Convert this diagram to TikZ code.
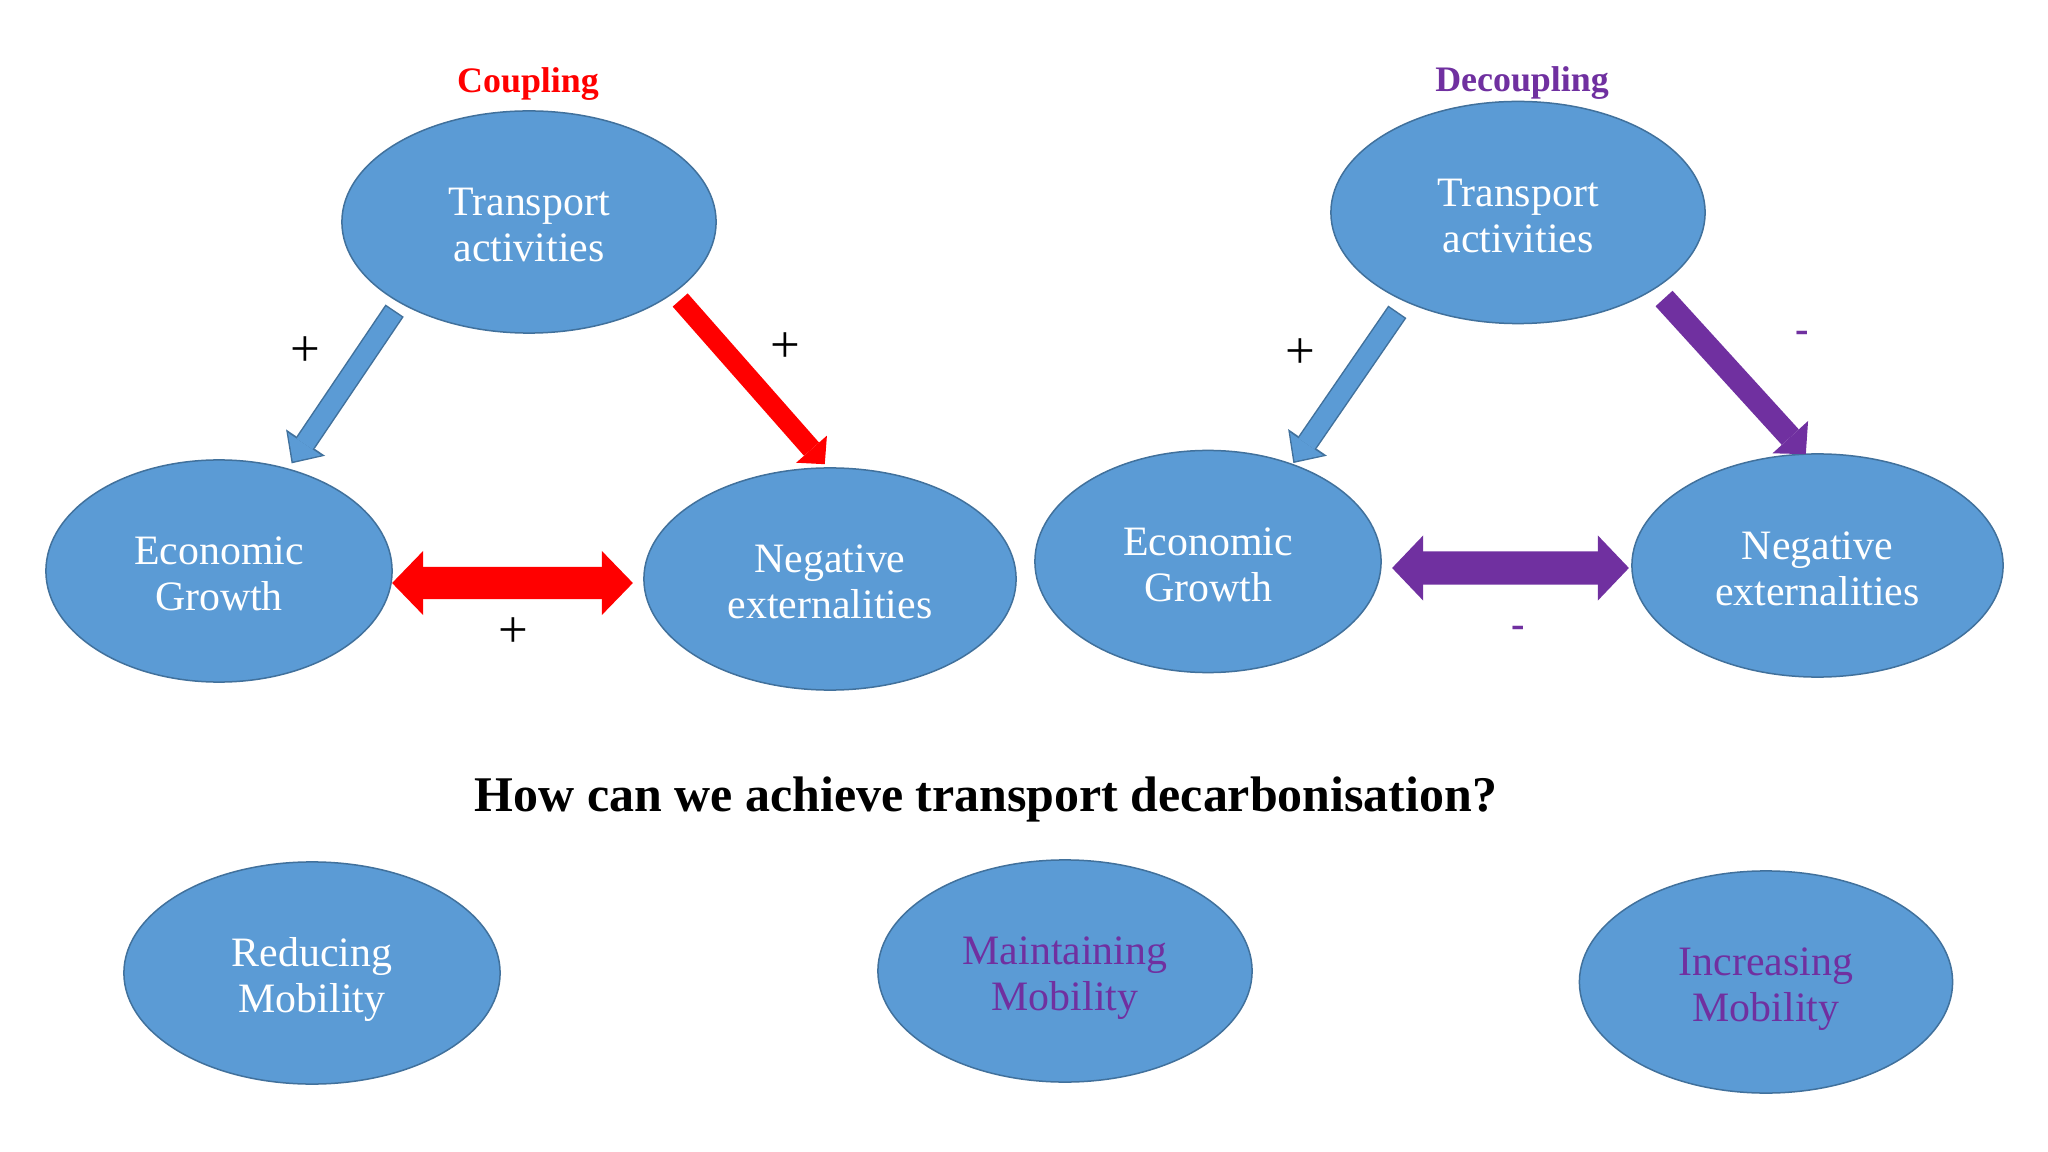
\documentclass[tikz,border=0pt]{standalone}
\usepackage{fontspec}
\setmainfont{Liberation Serif}
\usetikzlibrary{arrows.meta,shapes.geometric}
\definecolor{ellfill}{HTML}{5B9BD5}
\definecolor{ellline}{HTML}{41719C}
\definecolor{cpred}{HTML}{FF0000}
\definecolor{dcpurple}{HTML}{7030A0}
\begin{document}
\begin{tikzpicture}[x=0.01cm,y=-0.01cm,
  bubble/.style={ellipse, draw=ellline, fill=ellfill, line width=0.015cm,
    minimum width=3.74cm, minimum height=2.22cm, inner sep=0pt, outer sep=0pt,
    text height=0.795cm, text depth=0pt,
    text=white, align=center, font=\fontsize{11.9}{13.1}\selectfont},
  heading/.style={font=\fontsize{10.2}{12}\selectfont\bfseries, anchor=base},
  sign/.style={font=\fontsize{15}{16}\selectfont, text=black},
  minus/.style={font=\fontsize{11.5}{14}\selectfont\bfseries, text=dcpurple},
  bluearrowout/.style={draw=ellline, line width=0.22cm,
    -{Triangle[length=0.25cm,width=0.47cm,line width=0pt]}},
  bluearrowin/.style={draw=ellfill, line width=0.19cm,
    -{Triangle[length=0.21cm,width=0.40cm,line width=0pt]}},
  redarrow/.style={draw=cpred, line width=0.20cm,
    -{Triangle[length=0.20cm,width=0.41cm,line width=0pt]}},
  purplearrow/.style={draw=dcpurple, line width=0.23cm,
    -{Triangle[length=0.23cm,width=0.48cm,line width=0pt]}},
  redbar/.style={draw=cpred, line width=0.32cm,
    {Triangle[length=0.31cm,width=0.64cm,line width=0pt]}-{Triangle[length=0.31cm,width=0.64cm,line width=0pt]}},
  purplebar/.style={draw=dcpurple, line width=0.33cm,
    {Triangle[length=0.31cm,width=0.65cm,line width=0pt]}-{Triangle[length=0.31cm,width=0.65cm,line width=0pt]}}
]
\useasboundingbox[fill=white] (0,0) rectangle (2048,1152);

% headings
\node[heading, text=cpred] (hcoup) at (528,93) {Coupling};
\node[heading, text=dcpurple] (hdecoup) at (1522,92) {Decoupling};

% left triangle
\node[bubble] (ta1) at (529,222) {Transport\\activities};
\node[bubble, minimum width=3.46cm] (eg1) at (219,571) {Economic\\Growth};
\node[bubble, minimum width=3.72cm] (ne1) at (830,579) {Negative\\externalities};

% right triangle
\node[bubble] (ta2) at (1518,212.5) {Transport\\activities};
\node[bubble, minimum width=3.46cm] (eg2) at (1208,561.5) {Economic\\Growth};
\node[bubble, minimum width=3.71cm, minimum height=2.23cm] (ne2) at (1817.5,565.5) {Negative\\externalities};

% bottom
\node[bubble, minimum width=3.76cm] (rm) at (312,973) {Reducing\\Mobility};
\node[bubble, text=dcpurple] (mm) at (1065,971) {Maintaining\\Mobility};
\node[bubble, minimum width=3.73cm, text=dcpurple] (im) at (1766,982) {Increasing\\Mobility};

% title
\node[font=\fontsize{14.2}{16}\selectfont\bfseries, anchor=base] (title) at (986,811)
  {How can we achieve transport decarbonisation?};

% left connectors
\draw[bluearrowout, shorten <=0.098cm, shorten >=0.069cm] (ta1.212.8) -- (eg1.56.7);
\draw[bluearrowin, shorten <=0.113cm, shorten >=0.091cm] (ta1.212.8) -- (eg1.56.7);
\draw[redarrow, shorten <=0.10cm, shorten >=0.05cm] (ta1.-26) -- (ne1.91.5);
\draw[redbar, shorten >=0.11cm] ([yshift=-0.12cm]eg1.east) -- ([yshift=-0.04cm]ne1.west);

% right connectors
\draw[bluearrowout, shorten <=0.132cm, shorten >=0.018cm] (ta2.218.75) -- (eg2.49.2);
\draw[bluearrowin, shorten <=0.147cm, shorten >=0.04cm] (ta2.218.75) -- (eg2.49.2);
\draw[purplearrow, shorten <=0.138cm] (ta2.-29.3) -- (ne2.96.9);
\draw[purplebar, shorten <=0.11cm, shorten >=0.03cm] ([yshift=-0.065cm]eg2.east) -- ([yshift=-0.025cm]ne2.west);

% signs
\node[sign] (s1) at (305,352) {+};
\node[sign] (s2) at (785,348) {+};
\node[sign] (s3) at (513,633) {+};
\node[sign] (s4) at (1300,354) {+};
\node[minus] (m1) at (1802,337) {-};
\node[minus] (m2) at (1518,632) {-};
\end{tikzpicture}
\end{document}
